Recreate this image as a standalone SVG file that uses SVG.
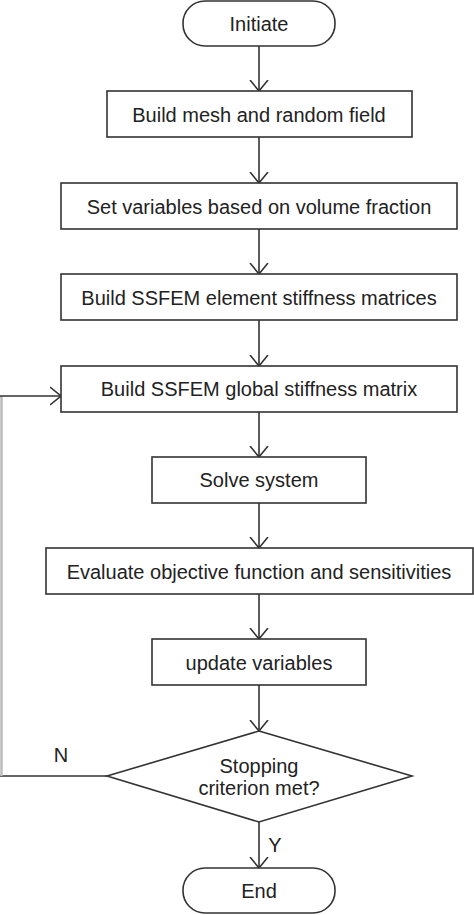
<svg xmlns="http://www.w3.org/2000/svg" width="474" height="915" viewBox="0 0 474 915">
<style>
.n{fill:#fff;stroke:#333;stroke-width:1.6}
.t{font-family:"Liberation Sans",Arial,sans-serif;font-size:20px;fill:#222;text-anchor:middle}
.c{fill:none;stroke:#333;stroke-width:1.6}
</style>
<defs>
<marker id="a" viewBox="0 0 12 20" refX="11" refY="10" markerWidth="12" markerHeight="20" markerUnits="userSpaceOnUse" orient="auto">
<path d="M0,1 L11,10 L0,19" fill="none" stroke="#333" stroke-width="1.6"/>
</marker>
</defs>
<rect width="474" height="915" fill="#fff"/>
<g id="connectors">
<line class="c" x1="259" y1="46" x2="259" y2="91" marker-end="url(#a)"/>
<line class="c" x1="259" y1="137" x2="259" y2="183" marker-end="url(#a)"/>
<line class="c" x1="259" y1="229" x2="259" y2="274" marker-end="url(#a)"/>
<line class="c" x1="259" y1="320" x2="259" y2="366" marker-end="url(#a)"/>
<line class="c" x1="259" y1="412" x2="259" y2="457" marker-end="url(#a)"/>
<line class="c" x1="259" y1="503" x2="259" y2="548" marker-end="url(#a)"/>
<line class="c" x1="259" y1="594" x2="259" y2="639" marker-end="url(#a)"/>
<line class="c" x1="259" y1="685" x2="259" y2="731" marker-end="url(#a)"/>
<line class="c" x1="259" y1="822" x2="259" y2="868" marker-end="url(#a)"/>
<line class="c" x1="107" y1="776" x2="0" y2="776"/>
<line x1="1.5" y1="776" x2="1.5" y2="396" stroke="#bbb" stroke-width="2.5"/>
<line class="c" x1="0" y1="396" x2="61" y2="396" marker-end="url(#a)"/>
<text class="t" x="61" y="762">N</text>
<text class="t" x="275" y="852">Y</text>
</g>
<g id="initiate"><rect class="n" x="183" y="1" width="152" height="45" rx="22"/><text class="t" x="259" y="31">Initiate</text></g>
<g id="mesh"><rect class="n" x="107" y="91" width="305" height="46"/><text class="t" x="259" y="122">Build mesh and random field</text></g>
<g id="setvars"><rect class="n" x="61" y="183" width="396" height="46"/><text class="t" x="259" y="214">Set variables based on volume fraction</text></g>
<g id="element"><rect class="n" x="61" y="274" width="396" height="46"/><text class="t" x="259" y="305">Build SSFEM element stiffness matrices</text></g>
<g id="global"><rect class="n" x="61" y="366" width="396" height="46"/><text class="t" x="259" y="396">Build SSFEM global stiffness matrix</text></g>
<g id="solve"><rect class="n" x="152" y="457" width="214" height="46"/><text class="t" x="259" y="487">Solve system</text></g>
<g id="evaluate"><rect class="n" x="46" y="548" width="427" height="46"/><text class="t" x="259" y="579">Evaluate objective function and sensitivities</text></g>
<g id="update"><rect class="n" x="152" y="639" width="214" height="46"/><text class="t" x="259" y="670">update variables</text></g>
<g id="decision"><polygon class="n" points="259,731 412,776 259,822 107,776"/><text class="t" x="259" y="773">Stopping</text><text class="t" x="259" y="795">criterion met?</text></g>
<g id="end"><rect class="n" x="183" y="868" width="152" height="45" rx="22"/><text class="t" x="259" y="898">End</text></g>
</svg>
